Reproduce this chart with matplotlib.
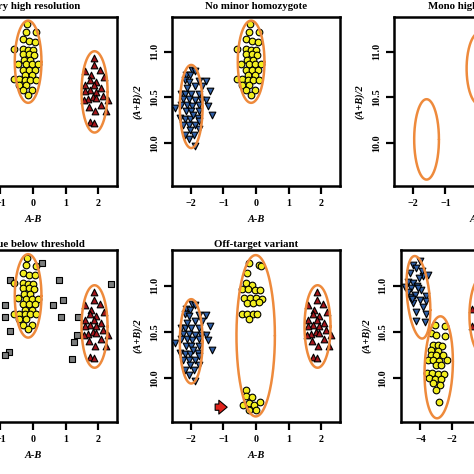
import numpy as np
import matplotlib
matplotlib.use('Agg')
import matplotlib.pyplot as plt
from matplotlib.patches import FancyArrowPatch

plt.rcParams['font.family'] = ['Liberation Serif', 'DejaVu Serif']
plt.rcParams['axes.unicode_minus'] = True

# ---------------- data ----------------
# heterozygote-like yellow cluster (panels 1, 2, 4)
yellow_x = [-0.17, -0.23, 0.08, -0.31, -0.12, 0.06, -0.59, -0.31, -0.15, 0.00,
            -0.31, -0.12, 0.02, -0.28, -0.10, -0.46, -0.20, -0.02, 0.15, -0.31,
            -0.12, 0.05, -0.26, -0.02, -0.59, -0.43, -0.26, -0.10, 0.08, -0.43,
            -0.20, -0.31, -0.02, -0.15]
yellow_y = [11.30, 11.22, 11.21, 11.14, 11.12, 11.11, 11.03, 11.03, 11.02, 11.02,
            10.97, 10.97, 10.96, 10.91, 10.91, 10.87, 10.86, 10.86, 10.86, 10.80,
            10.80, 10.80, 10.74, 10.74, 10.70, 10.70, 10.69, 10.69, 10.69, 10.64,
            10.64, 10.58, 10.58, 10.53]

# blue cluster (panels 2, 5)
blue_x = [-1.97, -1.86, -2.15, -2.03, -1.74, -1.55, -2.17, -2.05, -1.86, -1.66,
          -1.41, -2.30, -2.17, -2.00, -1.74, -2.25, -2.07, -1.86, -1.69, -1.55,
          -2.48, -2.30, -2.13, -1.97, -1.74, -1.48, -2.15, -2.00, -1.76, -1.35,
          -2.33, -2.17, -2.03, -1.79, -2.25, -2.07, -1.86, -1.74, -2.03, -2.17,
          -1.90, -2.05, -1.86, -1.74, -1.95, -2.12]
blue_y = [10.80, 10.79, 10.75, 10.74, 10.68, 10.68, 10.69, 10.67, 10.62, 10.62,
          10.57, 10.54, 10.54, 10.54, 10.54, 10.48, 10.48, 10.47, 10.47, 10.47,
          10.38, 10.42, 10.42, 10.41, 10.42, 10.41, 10.35, 10.35, 10.35, 10.31,
          10.27, 10.26, 10.26, 10.27, 10.20, 10.20, 10.20, 10.15, 10.14, 10.09,
          10.09, 10.04, 9.97, 10.24, 10.31, 10.60]

# dark red cluster (panels 1, 4, 5)
red_x = [1.88, 1.88, 2.05, 1.59, 1.78, 2.18, 1.95, 1.74, 1.59, 1.88,
         2.10, 1.74, 1.95, 1.59, 2.15, 1.85, 1.69, 1.95, 2.29, 1.56,
         1.71, 2.10, 1.90, 2.25, 1.74, 1.88]
red_y = [10.93, 10.85, 10.80, 10.79, 10.74, 10.72, 10.67, 10.69, 10.63, 10.63,
         10.60, 10.58, 10.56, 10.57, 10.52, 10.50, 10.48, 10.49, 10.47, 10.47,
         10.40, 10.42, 10.35, 10.35, 10.23, 10.22]

# grey squares (panel 4, below threshold)
gray4_x = [0.28, -0.71, 0.79, 2.40, 0.93, 0.61, -0.86, 0.86, -0.86, 1.39,
           -0.71, 1.36, 1.26, -0.73, -0.86, 1.21]
gray4_y = [11.24, 11.06, 11.06, 11.02, 10.85, 10.79, 10.79, 10.66, 10.66, 10.66,
           10.51, 10.47, 10.39, 10.29, 10.25, 10.21]

# yellow cluster split by off-target variant (panel 5)
yellow5_x = [-0.22, 0.08, 0.15, -0.27, -0.30, -0.12, -0.44, -0.24, -0.04, 0.13,
             -0.37, -0.17, 0.00, 0.18, -0.29, -0.10, 0.08, -0.44, -0.27, -0.10,
             0.03, -0.22,
             -0.30, -0.30, -0.12, -0.40, -0.22, -0.07, 0.11, -0.22, 0.00]
yellow5_y = [11.24, 11.22, 11.21, 11.14, 11.03, 11.01, 10.96, 10.96, 10.95, 10.95,
             10.87, 10.87, 10.87, 10.86, 10.81, 10.81, 10.82, 10.70, 10.69, 10.70,
             10.69, 10.64,
             9.87, 9.81, 9.80, 9.71, 9.74, 9.71, 9.75, 9.66, 9.66]

# panel 6 clusters
blue6_x = [-4.00, -4.46, -4.25, -4.63, -3.84, -4.09, -4.78, -4.46, -4.98, -4.56,
           -3.94, -4.36, -4.67, -3.67, -4.00, -3.67, -4.46, -3.84, -4.25, -3.67,
           -4.29, -3.73, -4.20, -3.55, -4.80, -4.15, -3.90, -4.55]
blue6_y = [11.27, 11.22, 11.19, 11.14, 11.10, 11.08, 11.04, 11.03, 10.99, 10.97,
           10.95, 10.90, 10.88, 10.89, 10.85, 10.83, 10.81, 10.77, 10.72, 10.70,
           10.62, 10.61, 11.00, 11.12, 10.93, 10.98, 11.16, 10.86]
yellow6_x = [-3.11, -2.48, -3.31, -3.00, -2.48, -3.21, -2.90, -2.63, -3.31, -2.88,
             -3.31, -3.00, -2.59, -3.52, -3.21, -2.84, -2.34, -3.04, -2.69, -3.59,
             -3.27, -2.90, -2.54, -3.46, -3.11, -2.69, -3.21, -2.79, -3.00, -2.84]
yellow6_y = [10.58, 10.56, 10.49, 10.47, 10.46, 10.36, 10.36, 10.35, 10.31, 10.30,
             10.25, 10.25, 10.25, 10.20, 10.20, 10.19, 10.20, 10.15, 10.14, 10.06,
             10.06, 10.05, 10.05, 10.00, 9.99, 9.99, 9.95, 9.93, 9.87, 9.75]
red6_x = [-0.75, -0.75, -0.40, -0.30, 0.00, 0.20]
red6_y = [10.75, 10.56, 10.90, 10.60, 10.40, 10.80]

# cluster ellipses: (centre x, centre y, half-width, half-height, correlation)
ell_yellow = (-0.15, 10.89, 0.41, 0.45, 0.0)
ell_red = (1.89, 10.56, 0.40, 0.445, 0.0)
ell_blue = (-1.99, 10.40, 0.35, 0.455, 0.0)
ell_mono_left = (-1.58, 10.04, 0.38, 0.44, 0.0)
ell_mono_right = (0.05, 10.815, 0.40, 0.395, 0.0)
ell_offtarget = (-0.01, 10.46, 0.59, 0.87, 0.0)
ell_blue6 = (-4.125, 10.875, 0.75, 0.445, -0.31)
ell_yellow6 = (-2.85, 10.12, 0.89, 0.55, 0.12)
ell_red6 = (-0.10, 10.68, 0.82, 0.42, 0.0)

titles = ["Very high resolution", "No minor homozygote", "Mono high resolution",
          "Value below threshold", "Off-target variant", ""]
yticks = [10.0, 10.5, 11.0]
xticks_std = [-2, -1, 0, 1, 2]
xticks_wide = [-4, -2, 0, 2, 4]

# ---------------- styles ----------------
C_YEL = '#f3ef1f'
C_BLU = '#2f5fa6'
C_RED = '#a3161c'
C_GRY = '#7b7d7d'
C_ORA = '#ee8a3c'
MS = 23

fig = plt.figure(figsize=(4.74, 4.74), dpi=100)
W = 168 / 474
top_b, top_h = (474 - 186) / 474, 169.5 / 474
bot_b, bot_h = (474 - 422) / 474, 172 / 474
lefts_top = [-51 / 474, 172 / 474, 394 / 474]
lefts_bot = [-51 / 474, 172 / 474, 400.5 / 474]

axes = []
for l in lefts_top:
    axes.append(fig.add_axes([l, top_b, W, top_h]))
for l in lefts_bot:
    axes.append(fig.add_axes([l, bot_b, W, bot_h]))


def ellipse(ax, p):
    cx, cy, sx, sy, corr = p
    t = np.linspace(0, 2 * np.pi, 300)
    phi = np.arccos(corr)
    ax.plot(cx + sx * np.cos(t), cy + sy * np.cos(t - phi), color=C_ORA,
            lw=1.8, zorder=4, solid_capstyle='round')


def pts(ax, x, y, marker, color):
    ax.scatter(x, y, s=MS, marker=marker, facecolor=color, edgecolor='black',
               linewidth=0.8, zorder=3)


for i, ax in enumerate(axes):
    wide = (i == 5)
    ax.set_xlim((-5.25, 5.3) if wide else (-2.58, 2.58))
    ax.set_ylim(9.53, 11.385)
    ax.set_xticks(xticks_wide if wide else xticks_std)
    ax.set_yticks(yticks)
    ax.set_yticklabels([f"{v:.1f}" for v in yticks], rotation=90, va='center')
    ax.tick_params(direction='out', length=5.5, width=1.6, labelsize=7.2, pad=4)
    for lab in ax.get_xticklabels() + ax.get_yticklabels():
        lab.set_fontweight('bold')
    for sp in ax.spines.values():
        sp.set_linewidth(1.8)
    ax.set_xlabel('A-B', fontsize=7.5, style='italic', fontweight='bold',
                  labelpad=5)
    ax.set_ylabel('(A+B)/2', fontsize=7.5, style='italic', fontweight='bold',
                  labelpad=5)
    if titles[i]:
        ax.set_title(titles[i], fontsize=7.8, fontweight='bold',
                     pad=5.5 if i < 3 else 2.5)

# panel 1
pts(axes[0], yellow_x, yellow_y, 'o', C_YEL)
pts(axes[0], red_x, red_y, '^', C_RED)
ellipse(axes[0], ell_yellow)
ellipse(axes[0], ell_red)

# panel 2
pts(axes[1], blue_x, blue_y, 'v', C_BLU)
pts(axes[1], yellow_x, yellow_y, 'o', C_YEL)
ellipse(axes[1], ell_blue)
ellipse(axes[1], ell_yellow)

# panel 3
ellipse(axes[2], ell_mono_left)
ellipse(axes[2], ell_mono_right)

# panel 4
pts(axes[3], gray4_x, gray4_y, 's', C_GRY)
pts(axes[3], yellow_x, yellow_y, 'o', C_YEL)
pts(axes[3], red_x, red_y, '^', C_RED)
ellipse(axes[3], ell_yellow)
ellipse(axes[3], ell_red)

# panel 5
pts(axes[4], blue_x, blue_y, 'v', C_BLU)
pts(axes[4], yellow5_x, yellow5_y, 'o', C_YEL)
pts(axes[4], red_x, red_y, '^', C_RED)
ellipse(axes[4], ell_blue)
ellipse(axes[4], ell_offtarget)
ellipse(axes[4], ell_red)
arr = FancyArrowPatch((-1.34, 9.69), (-0.80, 9.69),
                      arrowstyle='simple,head_length=0.6,head_width=1.0,tail_width=0.45',
                      mutation_scale=10, facecolor='#e0231c', edgecolor='black',
                      linewidth=0.8, zorder=5)
axes[4].add_patch(arr)

# panel 6
pts(axes[5], blue6_x, blue6_y, 'v', C_BLU)
pts(axes[5], yellow6_x, yellow6_y, 'o', C_YEL)
pts(axes[5], red6_x, red6_y, '^', C_RED)
ellipse(axes[5], ell_blue6)
ellipse(axes[5], ell_yellow6)
ellipse(axes[5], ell_red6)

fig.savefig('out.png', dpi=100)
